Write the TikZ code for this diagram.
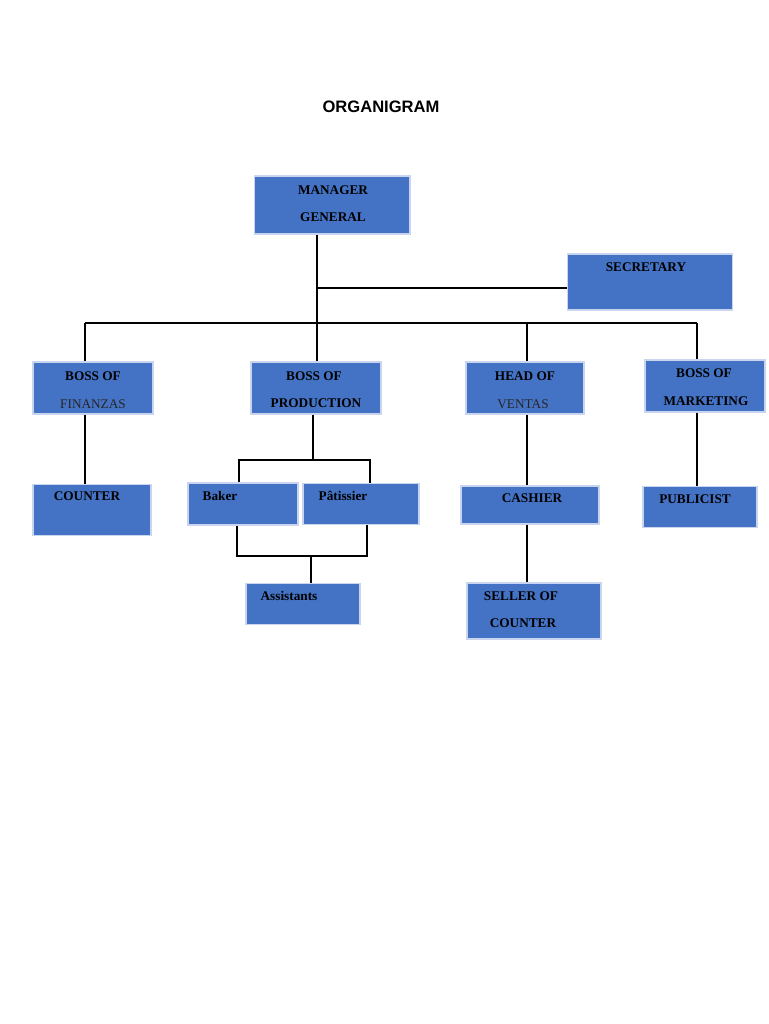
\documentclass[tikz,border=0pt]{standalone}
\usepackage{fontspec}
\setmainfont{Liberation Serif}
\newfontfamily\titlefont{Liberation Sans}
\usetikzlibrary{positioning}
\definecolor{boxblue}{HTML}{4472C4}
\definecolor{boxedge}{HTML}{C9D5EE}

\begin{document}
\begin{tikzpicture}[x=0.0265cm,y=-0.0265cm,
  box/.style={rectangle,fill=boxblue,draw=boxedge,line width=1.2pt,inner sep=0pt},
  sz/.style 2 args={minimum width=#1*0.7512pt,minimum height=#2*0.7512pt},
  txt/.style={inner sep=0pt,font=\fontsize{10}{12}\selectfont\bfseries,align=center},
  thin/.style={inner sep=0pt,font=\fontsize{10}{12}\selectfont,text=black!85},
  link/.style={line width=1.2pt}]
  \useasboundingbox (0,0) rectangle (768,1024);
  \node[font=\fontsize{12.5}{14}\selectfont\titlefont\bfseries] (title) at (381,107) {ORGANIGRAM};

  % boxes
  \node[box,sz={156}{58}] (manager) at (332,205) {};
  \node[box,sz={166}{56}] (secretary) at (650,282) {};
  \node[box,sz={120}{52}] (finanzas) at (93,388) {};
  \node[box,sz={130}{52}] (production) at (316,388) {};
  \node[box,sz={119}{52}] (ventas) at (525,388) {};
  \node[box,sz={120}{52}] (marketing) at (705,386) {};
  \node[box,sz={119}{51}] (counter) at (92,510) {};
  \node[box,sz={110}{42}] (baker) at (243,504) {};
  \node[box,sz={116}{41}] (patissier) at (361,504) {};
  \node[box,sz={139}{38}] (cashier) at (530,505) {};
  \node[box,sz={115}{41}] (publicist) at (700,507) {};
  \node[box,sz={114}{41}] (assistants) at (303,604) {};
  \node[box,sz={135}{56}] (seller) at (534,611) {};

  % texts
  \node[txt] (managert1) at (333,190) {MANAGER};
  \node[txt] (managert2) at (333,217) {GENERAL};
  \node[txt] (secretaryt) at (646,267) {SECRETARY};
  \node[txt] (finanzast1) at (93,376) {BOSS OF};
  \node[thin] (finanzast2) at (93,404) {FINANZAS};
  \node[txt] (productiont1) at (314,376) {BOSS OF};
  \node[txt] (productiont2) at (316,403) {PRODUCTION};
  \node[txt] (ventast1) at (525,376) {HEAD OF};
  \node[thin] (ventast2) at (523,404) {VENTAS};
  \node[txt] (marketingt1) at (704,373) {BOSS OF};
  \node[txt] (marketingt2) at (706,401) {MARKETING};
  \node[txt] (countert) at (87,496) {COUNTER};
  \node[txt] (bakert) at (220,496) {Baker};
  \node[txt] (patissiert) at (343,496) {Pâtissier};
  \node[txt] (cashiert) at (532,498) {CASHIER};
  \node[txt] (publicistt) at (695,499) {PUBLICIST};
  \node[txt] (assistantst) at (289,596) {Assistants};
  \node[txt] (sellert1) at (521,596) {SELLER OF};
  \node[txt] (sellert2) at (523,623) {COUNTER};

  % junctions
  \coordinate (bus) at (317,323);
  \coordinate (busL) at (85,323);
  \coordinate (busV) at (527,323);
  \coordinate (busR) at (697,323);
  \coordinate (secj) at (317,288);
  \coordinate (prodj) at (313,460);
  \coordinate (prodL) at (239,460);
  \coordinate (prodR) at (370,460);
  \coordinate (lowL) at (237,556);
  \coordinate (lowR) at (367,556);
  \coordinate (lowM) at (311,556);

  % connectors
  \draw[link] (manager.south -| bus) -- (production.north -| bus);
  \draw[link] (secj) -- (secj -| secretary.west);
  \draw[link] (busL) -- (busR);
  \draw[link] (busL) -- (finanzas.north -| busL);
  \draw[link] (busV) -- (ventas.north -| busV);
  \draw[link] (busR) -- (marketing.north -| busR);
  \draw[link] (finanzas.south -| busL) -- (counter.north -| busL);
  \draw[link] (production.south -| prodj) -- (prodj);
  \draw[link] (baker.north -| prodL) -- (prodL) -- (prodR) -- (patissier.north -| prodR);
  \draw[link] (baker.south -| lowL) -- (lowL) -- (lowR) -- (patissier.south -| lowR);
  \draw[link] (lowM) -- (assistants.north -| lowM);
  \draw[link] (ventas.south -| busV) -- (cashier.north -| busV);
  \draw[link] (cashier.south -| busV) -- (seller.north -| busV);
  \draw[link] (marketing.south -| busR) -- (publicist.north -| busR);
\end{tikzpicture}
\end{document}
